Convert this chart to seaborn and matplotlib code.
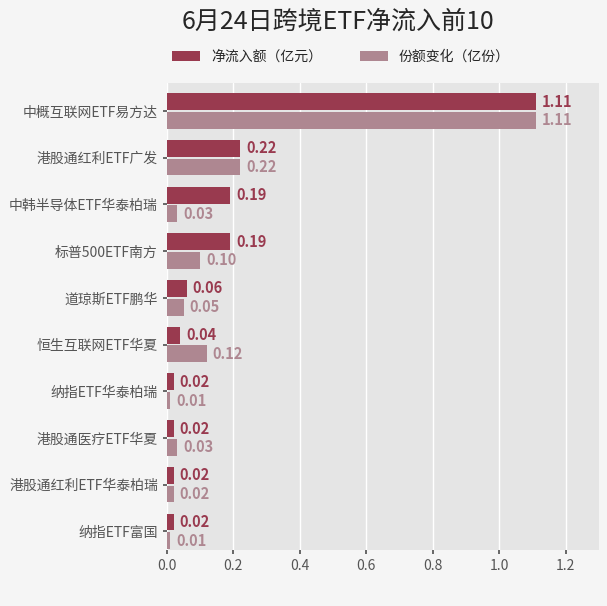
import pandas as pd
import matplotlib.pyplot as plt
import seaborn as sns

# data
funds = ['中概互联网ETF易方达', '港股通红利ETF广发', '中韩半导体ETF华泰柏瑞', '标普500ETF南方',
         '道琼斯ETF鹏华', '恒生互联网ETF华夏', '纳指ETF华泰柏瑞', '港股通医疗ETF华夏',
         '港股通红利ETF华泰柏瑞', '纳指ETF富国']
net_inflow = [1.11, 0.22, 0.19, 0.19, 0.06, 0.04, 0.02, 0.02, 0.02, 0.02]
share_change = [1.11, 0.22, 0.03, 0.10, 0.05, 0.12, 0.01, 0.03, 0.02, 0.01]
series_names = ['净流入额（亿元）', '份额变化（亿份）']
colors = ['#993a4f', '#ae8791']

df = pd.DataFrame({'fund': funds * 2,
                   'value': net_inflow + share_change,
                   'series': [series_names[0]] * len(funds) + [series_names[1]] * len(funds)})

sns.set_theme(style='darkgrid', rc={'axes.facecolor': '#e5e5e5', 'figure.facecolor': '#f5f5f5',
                                    'grid.color': 'white', 'grid.linewidth': 1.0})
plt.rcParams['font.family'] = ['Noto Sans CJK SC', 'DejaVu Sans']

fig = plt.figure(figsize=(6.07, 6.06), dpi=100)
ax = fig.add_axes([0.275, 0.0924, 0.712, 0.7706])

sns.barplot(data=df, y='fund', x='value', hue='series', palette=colors, orient='h',
            width=0.8, gap=0.1, linewidth=0, saturation=1, ax=ax, legend=True)

# value labels
for cont, col in zip(ax.containers, colors):
    for bar in cont:
        w = bar.get_width()
        ax.text(w + 0.018, bar.get_y() + bar.get_height() / 2, f'{w:.2f}',
                va='center', ha='left', color=col, fontsize=10.5, fontweight='bold')

ax.set_xlim(0, 1.3)
ax.set_ylim(9.4, -0.6)
ax.set_xticks([0, 0.2, 0.4, 0.6, 0.8, 1.0, 1.2])
ax.set_xlabel('')
ax.set_ylabel('')
ax.tick_params(axis='both', labelsize=10, colors='#555555', length=3, left=True, bottom=True)
for s in ax.spines.values():
    s.set_visible(False)

ax.legend(loc='center', bbox_to_anchor=(341 / 607, 1 - 57 / 606), bbox_transform=fig.transFigure,
          ncol=2, frameon=False, fontsize=10, handlelength=2.0, handleheight=0.7,
          handletextpad=0.8, columnspacing=2.7)
fig.text(338 / 607, 1 - 22 / 606, '6月24日跨境ETF净流入前10', ha='center', va='center', fontsize=18)

fig.savefig('out.png', dpi=100)
